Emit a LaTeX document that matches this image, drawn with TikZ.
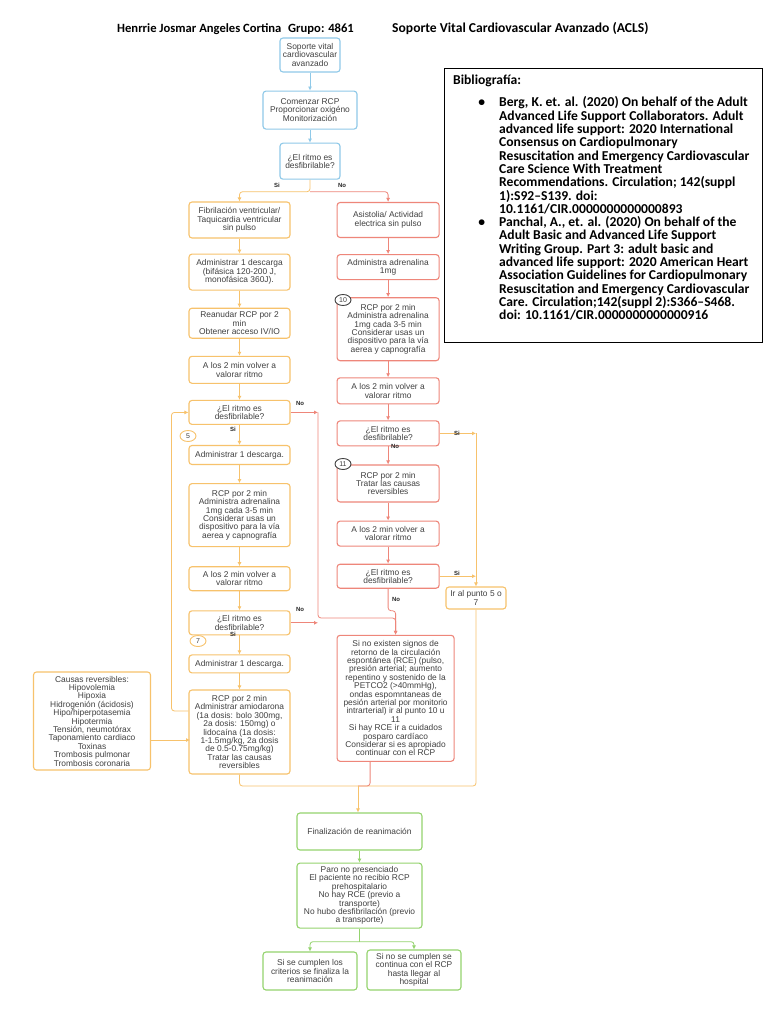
\documentclass[tikz,border=0pt]{standalone}
\usepackage{fontspec}
\usetikzlibrary{arrows.meta,positioning,shapes.geometric}
\setmainfont{Liberation Sans}
\newfontfamily\calfont{Carlito}
\definecolor{inkgray}{RGB}{64,64,64}
\definecolor{skyline}{RGB}{143,201,232}
\definecolor{goldline}{RGB}{247,194,108}
\definecolor{salmon}{RGB}{238,134,122}
\definecolor{leaf}{RGB}{148,211,110}

\begin{document}
\begin{tikzpicture}[x=1pt, y=-1pt,
  every node/.style={font=\fontsize{8.4}{8.4}\selectfont, text=inkgray},
  b/.style={rounded corners=3pt, draw, line width=1.1pt, fill=white, inner sep=2pt, align=center},
  bb/.style={b, draw=skyline}, gb/.style={b, draw=leaf},
  ob/.style={b, draw=goldline, minimum width=101pt}, rb/.style={b, draw=salmon, minimum width=102pt},
  a/.style={-{Latex[length=4pt,width=4pt]}, line width=0.8pt},
  ba/.style={a, draw=skyline}, oa/.style={a, draw=goldline}, ra/.style={a, draw=salmon}, ga/.style={a, draw=leaf},
  ol/.style={line width=0.8pt, draw=goldline}, rl/.style={line width=0.8pt, draw=salmon}, gl/.style={line width=0.8pt, draw=leaf},
  num/.style={ellipse, draw, line width=0.9pt, fill=white, minimum width=16pt, minimum height=11pt, inner sep=0pt, font=\fontsize{7}{7}\selectfont},
  lbl/.style={font=\bfseries\fontsize{6}{6}\selectfont, text=black!85, inner sep=0pt},
  head/.style={anchor=base west, inner sep=0pt, text=black, font=\calfont\bfseries\fontsize{13.6}{15}\selectfont}]
  \fill[white] (0,0) rectangle (768,1024);
  \useasboundingbox (0,0) rectangle (768,1024);

  \node[head, font=\calfont\bfseries\fontsize{12.6}{15}\selectfont] (autor) at (117,33) {Henrrie Josmar Angeles Cortina};
  \node[head, font=\calfont\bfseries\fontsize{12.6}{15}\selectfont] (grupo) at (288,33) {Grupo: 4861};
  \node[head] (titulo) at (392,33) {Soporte Vital Cardiovascular Avanzado (ACLS)};

  \node[draw=black, line width=0.8pt, minimum width=318pt, minimum height=274pt] (bib) at (603,205) {};
  \node[head] (bibtit) at (453,85) {Bibliografía:};
  \node[anchor=north west, inner sep=0pt, align=left, text=black, font=\calfont\bfseries\fontsize{13.6}{13.3}\selectfont\setlength{\lineskiplimit}{-10pt}] (refs) at (499,96.7)
  {\llap{\textbullet\hspace{14pt}}Berg, K. et. al. (2020) On behalf of the Adult\\
  Advanced Life Support Collaborators. Adult\\
  advanced life support: 2020 International\\
  Consensus on Cardiopulmonary\\
  Resuscitation and Emergency Cardiovascular\\
  Care Science With Treatment\\
  Recommendations. Circulation; 142(suppl\\
  1):S92–S139. doi:\\
  10.1161/CIR.0000000000000893\\
  \llap{\textbullet\hspace{14pt}}Panchal, A., et. al. (2020) On behalf of the\\
  Adult Basic and Advanced Life Support\\
  Writing Group. Part 3: adult basic and\\
  advanced life support: 2020 American Heart\\
  Association Guidelines for Cardiopulmonary\\
  Resuscitation and Emergency Cardiovascular\\
  Care. Circulation;142(suppl 2):S366–S468.\\
  doi: 10.1161/CIR.0000000000000916};

  \node[bb, minimum width=60pt, minimum height=34pt] (start) at (310,55) {Soporte vital\\cardiovascular\\avanzado};
  \node[bb, minimum width=94pt, minimum height=38pt, below=18pt of start] (rcp0) {Comenzar RCP\\Proporcionar oxigéno\\Monitorización};
  \node[bb, minimum width=60pt, minimum height=36pt, below=13pt of rcp0] (dec0) {¿El ritmo es\\desfibrilable?};

  \node[ob, minimum height=36pt] (fv) at (239.5,220) {Fibrilación ventricular/\\Taquicardia ventricular\\sin pulso};
  \node[ob, minimum height=36pt, below=15pt of fv] (desc1) {Administrar 1 descarga\\(bifásica 120-200 J,\\monofásica 360J).};
  \node[ob, minimum height=30pt, below=17pt of desc1] (rean) {Reanudar RCP por 2\\min\\Obtener acceso IV/IO};
  \node[ob, minimum height=27pt, below=17pt of rean] (valL1) {A los 2 min volver a\\valorar ritmo};
  \node[ob, minimum height=24pt, below=16pt of valL1] (decL1) {¿El ritmo es\\desfibrilable?};
  \node[ob, minimum height=19pt, below=20pt of decL1] (descL2) {Administrar 1 descarga.};
  \node[ob, minimum height=63pt, below=18pt of descL2] (rcpL) {RCP por 2 min\\Administra adrenalina\\1mg cada 3-5 min\\Considerar usas un\\dispositivo para la vía\\aerea y capnografía};
  \node[ob, minimum height=24pt, below=19pt of rcpL] (valL2) {A los 2 min volver a\\valorar ritmo};
  \node[ob, minimum height=24pt, below=19pt of valL2] (decL2) {¿El ritmo es\\desfibrilable?};
  \node[ob, minimum height=18pt, below=19pt of decL2] (descL3) {Administrar 1 descarga.};
  \node[ob, minimum height=84pt, below=16pt of descL3] (amio) {RCP por 2 min\\Administrar amiodarona\\(1a dosis: bolo 300mg,\\2a dosis: 150mg) o\\lidocaína (1a dosis:\\1-1.5mg/kg, 2a dosis\\de 0.5-0.75mg/kg)\\Tratar las causas\\reversibles};

  \node[rb, minimum height=35pt, right=46pt of fv] (asis) {Asistolia/ Actividad\\electrica sin pulso};
  \node[rb, minimum height=25pt, below=16pt of asis] (adr) {Administra adrenalina\\1mg};
  \node[rb, minimum height=63pt, below=17pt of adr] (rcpR) {RCP por 2 min\\Administra adrenalina\\1mg cada 3-5 min\\Considerar usas un\\dispositivo para la vía\\aerea y capnografía};
  \node[rb, minimum height=26pt, below=16pt of rcpR] (valR1) {A los 2 min volver a\\valorar ritmo};
  \node[rb, minimum height=25pt, below=16pt of valR1] (decR1) {¿El ritmo es\\desfibrilable?};
  \node[rb, minimum height=37pt, below=18pt of decR1] (rcpR2) {RCP por 2 min\\Tratar las causas\\reversibles};
  \node[rb, minimum height=25pt, below=18pt of rcpR2] (valR2) {A los 2 min volver a\\valorar ritmo};
  \node[rb, minimum height=24pt, below=17pt of valR2] (decR2) {¿El ritmo es\\desfibrilable?};
  \node[rb, minimum width=117pt, minimum height=126pt, below=46pt of decR2, xshift=7.5pt] (signos) {Si no existen signos de\\retorno de la circulación\\espontánea (RCE) (pulso,\\presión arterial; aumento\\repentino y sostenido de la\\PETCO2 (>40mmHg),\\ondas espomntaneas de\\pesión arterial por monitorio\\intrarterial) ir al punto 10 u\\11\\Si hay RCE ir a cuidados\\posparo cardíaco\\Considerar si es apropiado\\continuar con el RCP};

  \node[ob, minimum width=60pt, minimum height=22pt] (ir) at (476,598) {Ir al punto 5 o\\7};
  \node[ob, minimum width=117pt, minimum height=98pt] (causas) at (92,721) {Causas reversibles:\\Hipovolemia\\Hipoxia\\Hidrogenión (ácidosis)\\Hipo/hiperpotasemia\\Hipotermia\\Tensión, neumotórax\\Taponamiento cardiaco\\Toxinas\\Trombosis pulmonar\\Trombosis coronaria};

  \node[gb, minimum width=125pt, minimum height=37pt] (fin) at (359.5,831.5) {Finalización de reanimación};
  \node[gb, minimum width=125pt, minimum height=65pt, below=12pt of fin] (paro) {Paro no presenciado\\El paciente no recibio RCP\\prehospitalario\\No hay RCE (previo a\\transporte)\\No hubo desfibrilación (previo\\a transporte)};
  \node[gb, minimum width=94pt, minimum height=38pt] (si) at (310,971) {Si se cumplen los\\criterios se finaliza la\\reanimación};
  \node[gb, minimum width=94pt, minimum height=40pt] (nosi) at (414,970) {Si no se cumplen se\\continua con el RCP\\hasta llegar al\\hospital};

  \node[num, draw=goldline] (n5) at (188,436) {5};
  \node[num, draw=goldline] (n7) at (198,641) {7};
  \node[num, draw=black!75] (n10) at (343,300) {10};
  \node[num, draw=black!75] (n11) at (343,464) {11};

  \draw[ba] (start) -- (rcp0); \draw[ba] (rcp0) -- (dec0);
  \draw[oa, rounded corners=3pt] (dec0.south) -- ++(0,12) -| (fv.north);
  \draw[ra, rounded corners=3pt] (dec0.south) ++(0,12) -| (asis.north);
  \foreach \u/\v in {fv/desc1, desc1/rean, rean/valL1, valL1/decL1, decL1/descL2, descL2/rcpL, rcpL/valL2, valL2/decL2, decL2/descL3, descL3/amio}
    \draw[oa] (\u) -- (\v);
  \foreach \u/\v in {asis/adr, adr/rcpR, rcpR/valR1, valR1/decR1, decR1/rcpR2, rcpR2/valR2, valR2/decR2}
    \draw[ra] (\u) -- (\v);
  \draw[oa, rounded corners=3pt] ([yshift=21pt]amio.west) -- ++(-17,0) |- (decL1.west);
  \draw[oa] ([yshift=-19pt]causas.east) -- ++(39,0);

  \coordinate (rbus) at (318,618);
  \draw[ra] (decL1.east) -- (decL1.east -| rbus); \draw[ra] (decL2.east) -- (decL2.east -| rbus);
  \draw[ra, rounded corners=3pt] (decL1.east -| rbus) -- (rbus) -| (signos.north);
  \draw[ra, rounded corners=3pt] (decR2.south) -- ++(0,22) -| (signos.north);
  \draw[oa] (decR1.east) -- (decR1.east -| ir.north); \draw[oa] (decR1.east -| ir.north) -- (ir.north);
  \draw[oa] (decR2.east) -- (decR2.east -| ir.north);

  \coordinate (merge) at (358,786);
  \draw[ol, rounded corners=3pt] (amio.south) |- (merge);
  \draw[ol, rounded corners=3pt] (ir.south) |- (merge);
  \draw[rl, rounded corners=3pt] ([xshift=-25.5pt]signos.south) |- (merge);
  \draw[oa] (merge) -- (merge |- fin.north);
  \draw[ga] (fin) -- (paro);
  \draw[gl] (paro.south) -- ++(0,13) coordinate (gsplit);
  \draw[ga, rounded corners=3pt] (gsplit) -| (si.north); \draw[ga, rounded corners=3pt] (gsplit) -| (nosi.north);

  \node[lbl] (l1) at (277,185) {Si}; \node[lbl] (l2) at (342,185) {No};
  \node[lbl] (l3) at (300,403) {No}; \node[lbl] (l4) at (233,429) {Si};
  \node[lbl] (l5) at (300,609) {No}; \node[lbl] (l6) at (233,634) {Si};
  \node[lbl] (l7) at (395,446) {No}; \node[lbl] (l8) at (457,433) {Si};
  \node[lbl] (l9) at (457,573) {Si}; \node[lbl] (l10) at (396,599) {No};
\end{tikzpicture}
\end{document}
